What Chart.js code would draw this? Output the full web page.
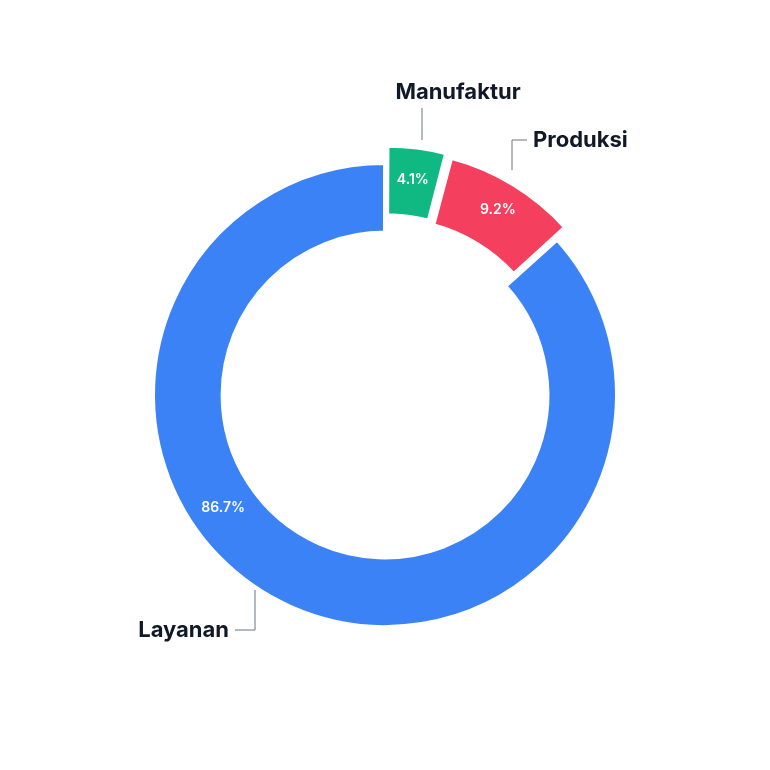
<!DOCTYPE html>
<html><head><meta charset="utf-8">
<script src="https://cdn.jsdelivr.net/npm/chart.js@4/dist/chart.umd.min.js"></script>
<style>html,body{margin:0;padding:0;background:#fff}#w{width:770px;height:770px}</style>
</head><body><div id="w"><canvas id="c"></canvas></div>
<script>
const categories = ["Manufaktur", "Produksi", "Layanan"];
const shares = [4.1, 9.2, 86.7];
const colors = ["#10b981", "#f43f5e", "#3b82f6"];
const offsets = [40, 40, 0];

const labelPlugin = {
  id: 'labels',
  afterDatasetsDraw(chart) {
    const ctx = chart.ctx;
    const arcs = chart.getDatasetMeta(0).data;
    ctx.save();
    ctx.fillStyle = '#fff';
    ctx.font = '600 14px Inter';
    ctx.textAlign = 'center'; ctx.textBaseline = 'middle';
    arcs.forEach((a, i) => {
      let mid = (a.startAngle + a.endAngle) / 2;
      if (i === 2) mid = a.startAngle + (a.endAngle - a.startAngle) * 0.6;
      const r = (a.innerRadius + a.outerRadius) / 2 + offsets[i] * 0.5;
      ctx.fillText(shares[i].toFixed(1) + '%', a.x + Math.cos(mid) * r, a.y + Math.sin(mid) * r);
    });
    ctx.strokeStyle = '#6b7280'; ctx.lineWidth = 1;
    ctx.fillStyle = '#111827'; ctx.font = '700 22px Inter';
    const line = pts => { ctx.beginPath(); ctx.moveTo(pts[0][0], pts[0][1]); pts.slice(1).forEach(p => ctx.lineTo(p[0], p[1])); ctx.stroke(); };
    line([[422, 140], [422, 108]]);
    ctx.textAlign = 'center'; ctx.fillText(categories[0], 458, 92);
    line([[512, 170], [512, 140], [527, 140]]);
    ctx.textAlign = 'left'; ctx.fillText(categories[1], 533, 140);
    line([[255, 590], [255, 630], [235, 630]]);
    ctx.textAlign = 'right'; ctx.fillText(categories[2], 229, 630);
    ctx.restore();
  }
};

new Chart(document.getElementById('c'), {
  type: 'doughnut',
  data: { labels: categories, datasets: [{ data: shares, backgroundColor: colors, offset: offsets, borderColor: '#fff', borderWidth: 4, hoverOffset: 0 }] },
  options: {
    responsive: true, maintainAspectRatio: false, animation: false,
    radius: 232, cutout: '70%',
    layout: { padding: { top: 70, bottom: 50 } },
    plugins: { legend: { display: false }, tooltip: { enabled: false } }
  },
  plugins: [labelPlugin]
});
</script></body></html>
